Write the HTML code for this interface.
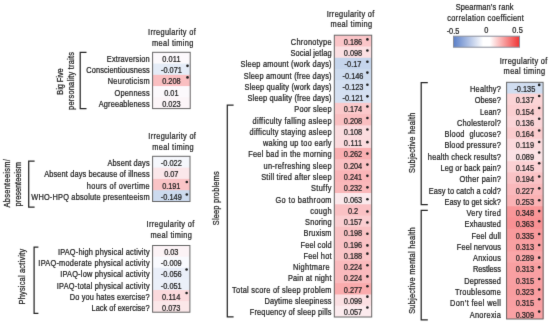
<!DOCTYPE html>
<html><head><meta charset="utf-8"><style>
html,body{margin:0;padding:0;background:#fff;width:550px;height:324px;overflow:hidden}
svg{display:block;font-family:"Liberation Sans",sans-serif;}
text{white-space:pre;stroke:#1e1e1e;stroke-width:0.25px}
</style></head><body>
<svg width="550" height="324" viewBox="0 0 550 324">
<defs><filter id="bl" x="0" y="0" width="550" height="324" filterUnits="userSpaceOnUse" color-interpolation-filters="sRGB"><feConvolveMatrix order="3" kernelMatrix="1 10 1 10 100 10 1 10 1" edgeMode="duplicate"/></filter></defs>
<g filter="url(#bl)"><rect width="550" height="324" fill="#fff"/>
<text transform="translate(171.90,35.40) scale(0.88,1) translate(0.182,0)" text-anchor="middle" font-size="8.4" fill="#1e1e1e" letter-spacing="0.364">Irregularity of</text>
<text transform="translate(172.70,45.90) scale(0.88,1) translate(0.205,0)" text-anchor="middle" font-size="8.4" fill="#1e1e1e" letter-spacing="0.410">meal timing</text>
<rect x="152.60" y="52.30" width="37.60" height="56.30" fill="#fcf9fc"/>
<rect x="152.60" y="63.56" width="37.60" height="45.04" fill="#e5ecf7"/>
<rect x="152.60" y="74.82" width="37.60" height="33.78" fill="#fabfc1"/>
<rect x="152.60" y="86.08" width="37.60" height="22.52" fill="#fcf9fc"/>
<rect x="152.60" y="97.34" width="37.60" height="11.26" fill="#fcf5f8"/>
<text transform="translate(149.60,61.90) scale(0.88,1) translate(0.180,0)" text-anchor="end" font-size="8.4" fill="#1e1e1e" letter-spacing="0.180">Extraversion</text>
<text transform="translate(171.40,61.90) scale(0.88,1) translate(0.056,0)" text-anchor="middle" font-size="8.4" fill="#1e1e1e" letter-spacing="0.113">0.011</text>
<text transform="translate(149.60,73.16) scale(0.88,1) translate(0.088,0)" text-anchor="end" font-size="8.4" fill="#1e1e1e" letter-spacing="0.088">Conscientiousness</text>
<text transform="translate(171.40,73.16) scale(0.88,1) translate(0.000,0)" text-anchor="middle" font-size="8.4" fill="#1e1e1e" letter-spacing="0.000">-0.071</text>
<circle cx="187.50" cy="65.86" r="1.3" fill="#1e1e1e"/>
<text transform="translate(149.60,84.42) scale(0.88,1) translate(0.328,0)" text-anchor="end" font-size="8.4" fill="#1e1e1e" letter-spacing="0.328">Neuroticism</text>
<text transform="translate(171.40,84.42) scale(0.88,1) translate(-0.022,0)" text-anchor="middle" font-size="8.4" fill="#1e1e1e" letter-spacing="-0.043">0.208</text>
<circle cx="187.50" cy="77.42" r="1.3" fill="#1e1e1e"/>
<text transform="translate(149.60,95.68) scale(0.88,1) translate(0.226,0)" text-anchor="end" font-size="8.4" fill="#1e1e1e" letter-spacing="0.226">Openness</text>
<text transform="translate(171.40,95.68) scale(0.88,1) translate(-0.029,0)" text-anchor="middle" font-size="8.4" fill="#1e1e1e" letter-spacing="-0.059">0.01</text>
<text transform="translate(149.60,106.94) scale(0.88,1) translate(0.145,0)" text-anchor="end" font-size="8.4" fill="#1e1e1e" letter-spacing="0.145">Agreeableness</text>
<text transform="translate(171.40,106.94) scale(0.88,1) translate(-0.022,0)" text-anchor="middle" font-size="8.4" fill="#1e1e1e" letter-spacing="-0.043">0.023</text>
<rect x="152.60" y="52.30" width="37.60" height="56.30" fill="none" stroke="#666" stroke-width="1"/>
<path d="M86.50,52.30 H80.20 V108.70 H86.50" fill="none" stroke="#262626" stroke-width="1.25"/>
<text transform="translate(63.40,81.50) rotate(-90) scale(0.88,1) translate(-0.027,0)" text-anchor="middle" font-size="8.4" fill="#1e1e1e" letter-spacing="-0.054">Big Five</text>
<text transform="translate(74.20,81.00) rotate(-90) scale(0.88,1) translate(0.138,0)" text-anchor="middle" font-size="8.4" fill="#1e1e1e" letter-spacing="0.276">personality traits</text>
<text transform="translate(172.10,139.40) scale(0.88,1) translate(0.182,0)" text-anchor="middle" font-size="8.4" fill="#1e1e1e" letter-spacing="0.364">Irregularity of</text>
<text transform="translate(172.90,149.60) scale(0.88,1) translate(0.205,0)" text-anchor="middle" font-size="8.4" fill="#1e1e1e" letter-spacing="0.410">meal timing</text>
<rect x="152.60" y="156.30" width="37.40" height="45.20" fill="#f5f7fc"/>
<rect x="152.60" y="167.60" width="37.40" height="33.90" fill="#fbe7ea"/>
<rect x="152.60" y="178.90" width="37.40" height="22.60" fill="#fac4c6"/>
<rect x="152.60" y="190.20" width="37.40" height="11.30" fill="#ccdaee"/>
<text transform="translate(149.60,165.90) scale(0.88,1) translate(0.163,0)" text-anchor="end" font-size="8.4" fill="#1e1e1e" letter-spacing="0.163">Absent days</text>
<text transform="translate(171.30,165.90) scale(0.88,1) translate(0.000,0)" text-anchor="middle" font-size="8.4" fill="#1e1e1e" letter-spacing="0.000">-0.022</text>
<text transform="translate(149.60,177.20) scale(0.88,1) translate(0.157,0)" text-anchor="end" font-size="8.4" fill="#1e1e1e" letter-spacing="0.157">Absent days because of illness</text>
<text transform="translate(171.30,177.20) scale(0.88,1) translate(-0.029,0)" text-anchor="middle" font-size="8.4" fill="#1e1e1e" letter-spacing="-0.059">0.07</text>
<text transform="translate(149.60,188.50) scale(0.88,1) translate(0.402,0)" text-anchor="end" font-size="8.4" fill="#1e1e1e" letter-spacing="0.402">hours of overtime</text>
<text transform="translate(171.30,188.50) scale(0.88,1) translate(-0.022,0)" text-anchor="middle" font-size="8.4" fill="#1e1e1e" letter-spacing="-0.043">0.191</text>
<circle cx="186.80" cy="182.00" r="1.3" fill="#1e1e1e"/>
<text transform="translate(149.60,199.80) scale(0.88,1) translate(0.222,0)" text-anchor="end" font-size="8.4" fill="#1e1e1e" letter-spacing="0.222">WHO-HPQ absolute presenteeism</text>
<text transform="translate(171.30,199.80) scale(0.88,1) translate(0.000,0)" text-anchor="middle" font-size="8.4" fill="#1e1e1e" letter-spacing="0.000">-0.149</text>
<circle cx="186.80" cy="194.50" r="1.3" fill="#1e1e1e"/>
<rect x="152.60" y="156.30" width="37.40" height="45.20" fill="none" stroke="#666" stroke-width="1"/>
<path d="M34.60,161.20 H28.70 V207.00 H34.60" fill="none" stroke="#262626" stroke-width="1.25"/>
<text transform="translate(10.40,183.30) rotate(-90) scale(0.88,1) translate(0.183,0)" text-anchor="middle" font-size="8.4" fill="#1e1e1e" letter-spacing="0.366">Absenteeism/</text>
<text transform="translate(20.60,184.30) rotate(-90) scale(0.88,1) translate(-0.008,0)" text-anchor="middle" font-size="8.4" fill="#1e1e1e" letter-spacing="-0.015">presenteeism</text>
<text transform="translate(170.40,227.00) scale(0.88,1) translate(0.182,0)" text-anchor="middle" font-size="8.4" fill="#1e1e1e" letter-spacing="0.364">Irregularity of</text>
<text transform="translate(171.20,238.20) scale(0.88,1) translate(0.205,0)" text-anchor="middle" font-size="8.4" fill="#1e1e1e" letter-spacing="0.410">meal timing</text>
<rect x="152.60" y="245.50" width="37.30" height="66.70" fill="#fcf3f6"/>
<rect x="152.60" y="256.62" width="37.30" height="55.58" fill="#f9fafe"/>
<rect x="152.60" y="267.73" width="37.30" height="44.47" fill="#eaeff9"/>
<rect x="152.60" y="278.85" width="37.30" height="33.35" fill="#ebf0f9"/>
<rect x="152.60" y="289.97" width="37.30" height="22.23" fill="#fbdadd"/>
<rect x="152.60" y="301.08" width="37.30" height="11.12" fill="#fbe7e9"/>
<text transform="translate(149.60,255.20) scale(0.88,1) translate(0.209,0)" text-anchor="end" font-size="8.4" fill="#1e1e1e" letter-spacing="0.209">IPAQ-high physical activity</text>
<text transform="translate(171.25,255.20) scale(0.88,1) translate(-0.029,0)" text-anchor="middle" font-size="8.4" fill="#1e1e1e" letter-spacing="-0.059">0.03</text>
<text transform="translate(149.60,266.32) scale(0.88,1) translate(0.269,0)" text-anchor="end" font-size="8.4" fill="#1e1e1e" letter-spacing="0.269">IPAQ-moderate physical activity</text>
<text transform="translate(171.25,266.32) scale(0.88,1) translate(0.000,0)" text-anchor="middle" font-size="8.4" fill="#1e1e1e" letter-spacing="0.000">-0.009</text>
<text transform="translate(149.60,277.43) scale(0.88,1) translate(0.248,0)" text-anchor="end" font-size="8.4" fill="#1e1e1e" letter-spacing="0.248">IPAQ-low physical activity</text>
<text transform="translate(171.25,277.43) scale(0.88,1) translate(0.000,0)" text-anchor="middle" font-size="8.4" fill="#1e1e1e" letter-spacing="0.000">-0.056</text>
<circle cx="186.60" cy="269.53" r="1.3" fill="#1e1e1e"/>
<text transform="translate(149.60,288.55) scale(0.88,1) translate(0.249,0)" text-anchor="end" font-size="8.4" fill="#1e1e1e" letter-spacing="0.249">IPAQ-total physical activity</text>
<text transform="translate(171.25,288.55) scale(0.88,1) translate(0.000,0)" text-anchor="middle" font-size="8.4" fill="#1e1e1e" letter-spacing="0.000">-0.051</text>
<text transform="translate(149.60,299.67) scale(0.88,1) translate(0.139,0)" text-anchor="end" font-size="8.4" fill="#1e1e1e" letter-spacing="0.139">Do you hates exercise?</text>
<text transform="translate(171.25,299.67) scale(0.88,1) translate(0.056,0)" text-anchor="middle" font-size="8.4" fill="#1e1e1e" letter-spacing="0.113">0.114</text>
<circle cx="186.60" cy="292.97" r="1.3" fill="#1e1e1e"/>
<text transform="translate(149.60,310.78) scale(0.88,1) translate(0.045,0)" text-anchor="end" font-size="8.4" fill="#1e1e1e" letter-spacing="0.045">Lack of exercise?</text>
<text transform="translate(171.25,310.78) scale(0.88,1) translate(-0.022,0)" text-anchor="middle" font-size="8.4" fill="#1e1e1e" letter-spacing="-0.043">0.073</text>
<rect x="152.60" y="245.50" width="37.30" height="66.70" fill="none" stroke="#666" stroke-width="1"/>
<path d="M38.40,247.00 H34.10 V313.30 H38.40" fill="none" stroke="#262626" stroke-width="1.25"/>
<text transform="translate(25.40,276.70) rotate(-90) scale(0.88,1) translate(0.124,0)" text-anchor="middle" font-size="8.4" fill="#1e1e1e" letter-spacing="0.247">Physical activity</text>
<text transform="translate(350.50,16.70) scale(0.88,1) translate(0.182,0)" text-anchor="middle" font-size="8.4" fill="#1e1e1e" letter-spacing="0.364">Irregularity of</text>
<text transform="translate(351.30,26.90) scale(0.88,1) translate(0.205,0)" text-anchor="middle" font-size="8.4" fill="#1e1e1e" letter-spacing="0.410">meal timing</text>
<rect x="334.30" y="35.20" width="37.40" height="281.80" fill="#fbc5c8"/>
<rect x="334.30" y="46.47" width="37.40" height="270.53" fill="#fbdfe2"/>
<rect x="334.30" y="57.74" width="37.40" height="259.26" fill="#c5d5ec"/>
<rect x="334.30" y="69.02" width="37.40" height="247.98" fill="#cddbee"/>
<rect x="334.30" y="80.29" width="37.40" height="236.71" fill="#d4e0f1"/>
<rect x="334.30" y="91.56" width="37.40" height="225.44" fill="#d5e0f1"/>
<rect x="334.30" y="102.83" width="37.40" height="214.17" fill="#fbc9cb"/>
<rect x="334.30" y="114.10" width="37.40" height="202.90" fill="#fabfc1"/>
<rect x="334.30" y="125.38" width="37.40" height="191.62" fill="#fbdcdf"/>
<rect x="334.30" y="136.65" width="37.40" height="180.35" fill="#fbdbde"/>
<rect x="334.30" y="147.92" width="37.40" height="169.08" fill="#faafb1"/>
<rect x="334.30" y="159.19" width="37.40" height="157.81" fill="#fac0c3"/>
<rect x="334.30" y="170.46" width="37.40" height="146.54" fill="#fab5b8"/>
<rect x="334.30" y="181.74" width="37.40" height="135.26" fill="#fab8ba"/>
<rect x="334.30" y="193.01" width="37.40" height="123.99" fill="#fbe9ec"/>
<rect x="334.30" y="204.28" width="37.40" height="112.72" fill="#fac1c4"/>
<rect x="334.30" y="215.55" width="37.40" height="101.45" fill="#fbced1"/>
<rect x="334.30" y="226.82" width="37.40" height="90.18" fill="#fac2c4"/>
<rect x="334.30" y="238.10" width="37.40" height="78.90" fill="#fac2c5"/>
<rect x="334.30" y="249.37" width="37.40" height="67.63" fill="#fac5c7"/>
<rect x="334.30" y="260.64" width="37.40" height="56.36" fill="#fababd"/>
<rect x="334.30" y="271.91" width="37.40" height="45.09" fill="#fababd"/>
<rect x="334.30" y="283.18" width="37.40" height="33.82" fill="#faabad"/>
<rect x="334.30" y="294.46" width="37.40" height="22.54" fill="#fbdfe2"/>
<rect x="334.30" y="305.73" width="37.40" height="11.27" fill="#fcebee"/>
<text transform="translate(331.50,44.70) scale(0.88,1) translate(0.314,0)" text-anchor="end" font-size="8.4" fill="#1e1e1e" letter-spacing="0.314">Chronotype</text>
<text transform="translate(353.00,44.70) scale(0.88,1) translate(-0.022,0)" text-anchor="middle" font-size="8.4" fill="#1e1e1e" letter-spacing="-0.043">0.186</text>
<circle cx="367.40" cy="39.40" r="1.3" fill="#1e1e1e"/>
<text transform="translate(331.50,55.97) scale(0.88,1) translate(0.118,0)" text-anchor="end" font-size="8.4" fill="#1e1e1e" letter-spacing="0.118">Social jetlag</text>
<text transform="translate(353.00,55.97) scale(0.88,1) translate(-0.022,0)" text-anchor="middle" font-size="8.4" fill="#1e1e1e" letter-spacing="-0.043">0.098</text>
<circle cx="367.40" cy="50.57" r="1.3" fill="#1e1e1e"/>
<text transform="translate(331.50,67.24) scale(0.88,1) translate(0.251,0)" text-anchor="end" font-size="8.4" fill="#1e1e1e" letter-spacing="0.251">Sleep amount (work days)</text>
<text transform="translate(353.00,67.24) scale(0.88,1) translate(-0.000,0)" text-anchor="middle" font-size="8.4" fill="#1e1e1e" letter-spacing="-0.001">-0.17</text>
<circle cx="367.40" cy="61.74" r="1.3" fill="#1e1e1e"/>
<text transform="translate(331.50,78.52) scale(0.88,1) translate(0.234,0)" text-anchor="end" font-size="8.4" fill="#1e1e1e" letter-spacing="0.234">Sleep amount (free days)</text>
<text transform="translate(353.00,78.52) scale(0.88,1) translate(0.000,0)" text-anchor="middle" font-size="8.4" fill="#1e1e1e" letter-spacing="0.000">-0.146</text>
<circle cx="367.40" cy="72.62" r="1.3" fill="#1e1e1e"/>
<text transform="translate(331.50,89.79) scale(0.88,1) translate(0.211,0)" text-anchor="end" font-size="8.4" fill="#1e1e1e" letter-spacing="0.211">Sleep quality (work days)</text>
<text transform="translate(353.00,89.79) scale(0.88,1) translate(0.000,0)" text-anchor="middle" font-size="8.4" fill="#1e1e1e" letter-spacing="0.000">-0.123</text>
<circle cx="367.40" cy="84.69" r="1.3" fill="#1e1e1e"/>
<text transform="translate(331.50,101.06) scale(0.88,1) translate(0.205,0)" text-anchor="end" font-size="8.4" fill="#1e1e1e" letter-spacing="0.205">Sleep quality (free days)</text>
<text transform="translate(353.00,101.06) scale(0.88,1) translate(0.000,0)" text-anchor="middle" font-size="8.4" fill="#1e1e1e" letter-spacing="0.000">-0.121</text>
<circle cx="367.40" cy="96.36" r="1.3" fill="#1e1e1e"/>
<text transform="translate(331.50,112.33) scale(0.88,1) translate(0.235,0)" text-anchor="end" font-size="8.4" fill="#1e1e1e" letter-spacing="0.235">Poor sleep</text>
<text transform="translate(353.00,112.33) scale(0.88,1) translate(-0.022,0)" text-anchor="middle" font-size="8.4" fill="#1e1e1e" letter-spacing="-0.043">0.174</text>
<circle cx="367.40" cy="106.43" r="1.3" fill="#1e1e1e"/>
<text transform="translate(331.50,123.60) scale(0.88,1) translate(0.342,0)" text-anchor="end" font-size="8.4" fill="#1e1e1e" letter-spacing="0.342">difficulty falling asleep</text>
<text transform="translate(353.00,123.60) scale(0.88,1) translate(-0.022,0)" text-anchor="middle" font-size="8.4" fill="#1e1e1e" letter-spacing="-0.043">0.208</text>
<circle cx="367.40" cy="118.00" r="1.3" fill="#1e1e1e"/>
<text transform="translate(331.50,134.88) scale(0.88,1) translate(0.290,0)" text-anchor="end" font-size="8.4" fill="#1e1e1e" letter-spacing="0.290">difficulty staying asleep</text>
<text transform="translate(353.00,134.88) scale(0.88,1) translate(-0.022,0)" text-anchor="middle" font-size="8.4" fill="#1e1e1e" letter-spacing="-0.043">0.108</text>
<circle cx="367.40" cy="129.48" r="1.3" fill="#1e1e1e"/>
<text transform="translate(331.50,146.15) scale(0.88,1) translate(0.309,0)" text-anchor="end" font-size="8.4" fill="#1e1e1e" letter-spacing="0.309">waking up too early</text>
<text transform="translate(353.00,146.15) scale(0.88,1) translate(0.135,0)" text-anchor="middle" font-size="8.4" fill="#1e1e1e" letter-spacing="0.269">0.111</text>
<circle cx="367.40" cy="142.15" r="1.3" fill="#1e1e1e"/>
<text transform="translate(331.50,157.42) scale(0.88,1) translate(0.292,0)" text-anchor="end" font-size="8.4" fill="#1e1e1e" letter-spacing="0.292">Feel bad in the morning</text>
<text transform="translate(353.00,157.42) scale(0.88,1) translate(-0.022,0)" text-anchor="middle" font-size="8.4" fill="#1e1e1e" letter-spacing="-0.043">0.262</text>
<circle cx="367.40" cy="153.62" r="1.3" fill="#1e1e1e"/>
<text transform="translate(331.50,168.69) scale(0.88,1) translate(0.297,0)" text-anchor="end" font-size="8.4" fill="#1e1e1e" letter-spacing="0.297">un-refreshing sleep</text>
<text transform="translate(353.00,168.69) scale(0.88,1) translate(-0.022,0)" text-anchor="middle" font-size="8.4" fill="#1e1e1e" letter-spacing="-0.043">0.204</text>
<circle cx="367.40" cy="164.59" r="1.3" fill="#1e1e1e"/>
<text transform="translate(331.50,179.96) scale(0.88,1) translate(0.282,0)" text-anchor="end" font-size="8.4" fill="#1e1e1e" letter-spacing="0.282">Still tired after sleep</text>
<text transform="translate(353.00,179.96) scale(0.88,1) translate(-0.022,0)" text-anchor="middle" font-size="8.4" fill="#1e1e1e" letter-spacing="-0.043">0.241</text>
<circle cx="367.40" cy="175.86" r="1.3" fill="#1e1e1e"/>
<text transform="translate(331.50,191.24) scale(0.88,1) translate(0.406,0)" text-anchor="end" font-size="8.4" fill="#1e1e1e" letter-spacing="0.406">Stuffy</text>
<text transform="translate(353.00,191.24) scale(0.88,1) translate(-0.022,0)" text-anchor="middle" font-size="8.4" fill="#1e1e1e" letter-spacing="-0.043">0.232</text>
<circle cx="367.40" cy="187.34" r="1.3" fill="#1e1e1e"/>
<text transform="translate(331.50,202.51) scale(0.88,1) translate(0.409,0)" text-anchor="end" font-size="8.4" fill="#1e1e1e" letter-spacing="0.409">Go to bathroom</text>
<text transform="translate(353.00,202.51) scale(0.88,1) translate(-0.022,0)" text-anchor="middle" font-size="8.4" fill="#1e1e1e" letter-spacing="-0.043">0.063</text>
<circle cx="367.40" cy="199.21" r="1.3" fill="#1e1e1e"/>
<text transform="translate(331.50,213.78) scale(0.88,1) translate(0.316,0)" text-anchor="end" font-size="8.4" fill="#1e1e1e" letter-spacing="0.316">cough</text>
<text transform="translate(353.00,213.78) scale(0.88,1) translate(-0.045,0)" text-anchor="middle" font-size="8.4" fill="#1e1e1e" letter-spacing="-0.089">0.2</text>
<circle cx="367.40" cy="211.48" r="1.3" fill="#1e1e1e"/>
<text transform="translate(331.50,225.05) scale(0.88,1) translate(0.187,0)" text-anchor="end" font-size="8.4" fill="#1e1e1e" letter-spacing="0.187">Snoring</text>
<text transform="translate(353.00,225.05) scale(0.88,1) translate(-0.022,0)" text-anchor="middle" font-size="8.4" fill="#1e1e1e" letter-spacing="-0.043">0.157</text>
<circle cx="367.40" cy="222.55" r="1.3" fill="#1e1e1e"/>
<text transform="translate(331.50,236.32) scale(0.88,1) translate(0.242,0)" text-anchor="end" font-size="8.4" fill="#1e1e1e" letter-spacing="0.242">Bruxism</text>
<text transform="translate(353.00,236.32) scale(0.88,1) translate(-0.022,0)" text-anchor="middle" font-size="8.4" fill="#1e1e1e" letter-spacing="-0.043">0.198</text>
<circle cx="367.40" cy="233.82" r="1.3" fill="#1e1e1e"/>
<text transform="translate(331.50,247.60) scale(0.88,1) translate(0.127,0)" text-anchor="end" font-size="8.4" fill="#1e1e1e" letter-spacing="0.127">Feel cold</text>
<text transform="translate(353.00,247.60) scale(0.88,1) translate(-0.022,0)" text-anchor="middle" font-size="8.4" fill="#1e1e1e" letter-spacing="-0.043">0.196</text>
<circle cx="367.40" cy="245.40" r="1.3" fill="#1e1e1e"/>
<text transform="translate(331.50,258.87) scale(0.88,1) translate(0.206,0)" text-anchor="end" font-size="8.4" fill="#1e1e1e" letter-spacing="0.206">Feel hot</text>
<text transform="translate(353.00,258.87) scale(0.88,1) translate(-0.022,0)" text-anchor="middle" font-size="8.4" fill="#1e1e1e" letter-spacing="-0.043">0.188</text>
<circle cx="367.40" cy="253.67" r="1.3" fill="#1e1e1e"/>
<text transform="translate(329.70,270.14) scale(0.88,1) translate(0.383,0)" text-anchor="end" font-size="8.4" fill="#1e1e1e" letter-spacing="0.383">Nightmare</text>
<text transform="translate(353.00,270.14) scale(0.88,1) translate(-0.022,0)" text-anchor="middle" font-size="8.4" fill="#1e1e1e" letter-spacing="-0.043">0.224</text>
<circle cx="367.40" cy="265.24" r="1.3" fill="#1e1e1e"/>
<text transform="translate(331.50,281.41) scale(0.88,1) translate(0.239,0)" text-anchor="end" font-size="8.4" fill="#1e1e1e" letter-spacing="0.239">Pain at night</text>
<text transform="translate(353.00,281.41) scale(0.88,1) translate(-0.022,0)" text-anchor="middle" font-size="8.4" fill="#1e1e1e" letter-spacing="-0.043">0.224</text>
<circle cx="367.40" cy="276.41" r="1.3" fill="#1e1e1e"/>
<text transform="translate(331.50,292.68) scale(0.88,1) translate(0.295,0)" text-anchor="end" font-size="8.4" fill="#1e1e1e" letter-spacing="0.295">Total score of sleep problem</text>
<text transform="translate(353.00,292.68) scale(0.88,1) translate(-0.022,0)" text-anchor="middle" font-size="8.4" fill="#1e1e1e" letter-spacing="-0.043">0.277</text>
<circle cx="367.40" cy="286.18" r="1.3" fill="#1e1e1e"/>
<text transform="translate(331.50,303.96) scale(0.88,1) translate(0.200,0)" text-anchor="end" font-size="8.4" fill="#1e1e1e" letter-spacing="0.200">Daytime sleepiness</text>
<text transform="translate(353.00,303.96) scale(0.88,1) translate(-0.022,0)" text-anchor="middle" font-size="8.4" fill="#1e1e1e" letter-spacing="-0.043">0.099</text>
<circle cx="367.40" cy="296.66" r="1.3" fill="#1e1e1e"/>
<text transform="translate(331.50,315.23) scale(0.88,1) translate(0.206,0)" text-anchor="end" font-size="8.4" fill="#1e1e1e" letter-spacing="0.206">Frequency of sleep pills</text>
<text transform="translate(353.00,315.23) scale(0.88,1) translate(-0.022,0)" text-anchor="middle" font-size="8.4" fill="#1e1e1e" letter-spacing="-0.043">0.057</text>
<circle cx="367.40" cy="307.53" r="1.3" fill="#1e1e1e"/>
<rect x="334.30" y="35.20" width="37.40" height="281.80" fill="none" stroke="#666" stroke-width="1"/>
<path d="M233.60,105.10 H227.30 V316.80 H233.60" fill="none" stroke="#262626" stroke-width="1.25"/>
<text transform="translate(219.00,198.30) rotate(-90) scale(0.88,1) translate(0.113,0)" text-anchor="middle" font-size="8.4" fill="#1e1e1e" letter-spacing="0.226">Sleep problems</text>
<text transform="translate(484.50,10.00) scale(0.88,1) translate(0.082,0)" text-anchor="middle" font-size="8.4" fill="#1e1e1e" letter-spacing="0.164">Spearman’s rank</text>
<text transform="translate(485.50,21.00) scale(0.88,1) translate(0.180,0)" text-anchor="middle" font-size="8.4" fill="#1e1e1e" letter-spacing="0.361">correlation coefficient</text>
<text transform="translate(453.00,33.90) scale(0.88,1) translate(-0.020,0)" text-anchor="middle" font-size="8.4" fill="#1e1e1e" letter-spacing="-0.040">-0.5</text>
<text transform="translate(486.20,32.90) scale(0.88,1) translate(-0.290,0)" text-anchor="middle" font-size="8.4" fill="#1e1e1e" letter-spacing="-0.581">0</text>
<text transform="translate(517.60,32.70) scale(0.88,1) translate(0.069,0)" text-anchor="middle" font-size="8.4" fill="#1e1e1e" letter-spacing="0.138">0.5</text>
<defs><linearGradient id="g" x1="0" x2="1" y1="0" y2="0"><stop offset="0" stop-color="#5a7fc8"/><stop offset="0.45" stop-color="#ffffff"/><stop offset="0.55" stop-color="#ffffff"/><stop offset="1" stop-color="#f03434"/></linearGradient></defs>
<rect x="453.5" y="36.2" width="66" height="11" fill="url(#g)" stroke="#8a8f9c" stroke-width="1"/>
<text transform="translate(523.50,63.90) scale(0.88,1) translate(0.182,0)" text-anchor="middle" font-size="8.4" fill="#1e1e1e" letter-spacing="0.364">Irregularity of</text>
<text transform="translate(524.30,74.40) scale(0.88,1) translate(0.205,0)" text-anchor="middle" font-size="8.4" fill="#1e1e1e" letter-spacing="0.410">meal timing</text>
<rect x="506.60" y="82.30" width="36.50" height="236.70" fill="#d0ddf0"/>
<rect x="506.60" y="93.57" width="36.50" height="225.43" fill="#fbd4d6"/>
<rect x="506.60" y="104.84" width="36.50" height="214.16" fill="#fbcfd1"/>
<rect x="506.60" y="116.11" width="36.50" height="202.89" fill="#fbd4d7"/>
<rect x="506.60" y="127.39" width="36.50" height="191.61" fill="#fbccce"/>
<rect x="506.60" y="138.66" width="36.50" height="180.34" fill="#fbd9dc"/>
<rect x="506.60" y="149.93" width="36.50" height="169.07" fill="#fbe2e5"/>
<rect x="506.60" y="161.20" width="36.50" height="157.80" fill="#fbd1d4"/>
<rect x="506.60" y="172.47" width="36.50" height="146.53" fill="#fac3c6"/>
<rect x="506.60" y="183.74" width="36.50" height="135.26" fill="#fab9bc"/>
<rect x="506.60" y="195.01" width="36.50" height="123.99" fill="#fab2b4"/>
<rect x="506.60" y="206.29" width="36.50" height="112.71" fill="#f99698"/>
<rect x="506.60" y="217.56" width="36.50" height="101.44" fill="#f99194"/>
<rect x="506.60" y="228.83" width="36.50" height="90.17" fill="#f99a9c"/>
<rect x="506.60" y="240.10" width="36.50" height="78.90" fill="#f9a0a2"/>
<rect x="506.60" y="251.37" width="36.50" height="67.63" fill="#faa7a9"/>
<rect x="506.60" y="262.64" width="36.50" height="56.36" fill="#f9a0a2"/>
<rect x="506.60" y="273.91" width="36.50" height="45.09" fill="#f99fa2"/>
<rect x="506.60" y="285.19" width="36.50" height="33.81" fill="#f99d9f"/>
<rect x="506.60" y="296.46" width="36.50" height="22.54" fill="#f99fa2"/>
<rect x="506.60" y="307.73" width="36.50" height="11.27" fill="#faa1a4"/>
<text transform="translate(500.90,92.10) scale(0.88,1) translate(0.293,0)" text-anchor="end" font-size="8.4" fill="#1e1e1e" letter-spacing="0.293">Healthy?</text>
<text transform="translate(524.85,92.10) scale(0.88,1) translate(0.000,0)" text-anchor="middle" font-size="8.4" fill="#1e1e1e" letter-spacing="0.000">-0.135</text>
<circle cx="539.20" cy="84.90" r="1.3" fill="#1e1e1e"/>
<text transform="translate(500.90,103.37) scale(0.88,1) translate(0.086,0)" text-anchor="end" font-size="8.4" fill="#1e1e1e" letter-spacing="0.086">Obese?</text>
<text transform="translate(524.85,103.37) scale(0.88,1) translate(-0.022,0)" text-anchor="middle" font-size="8.4" fill="#1e1e1e" letter-spacing="-0.043">0.137</text>
<circle cx="539.20" cy="96.07" r="1.3" fill="#1e1e1e"/>
<text transform="translate(500.90,114.64) scale(0.88,1) translate(0.085,0)" text-anchor="end" font-size="8.4" fill="#1e1e1e" letter-spacing="0.085">Lean?</text>
<text transform="translate(524.85,114.64) scale(0.88,1) translate(-0.022,0)" text-anchor="middle" font-size="8.4" fill="#1e1e1e" letter-spacing="-0.043">0.154</text>
<circle cx="539.20" cy="108.04" r="1.3" fill="#1e1e1e"/>
<text transform="translate(500.90,125.91) scale(0.88,1) translate(0.260,0)" text-anchor="end" font-size="8.4" fill="#1e1e1e" letter-spacing="0.260">Cholesterol?</text>
<text transform="translate(524.85,125.91) scale(0.88,1) translate(-0.022,0)" text-anchor="middle" font-size="8.4" fill="#1e1e1e" letter-spacing="-0.043">0.136</text>
<circle cx="539.20" cy="118.81" r="1.3" fill="#1e1e1e"/>
<text transform="translate(500.90,137.19) scale(0.88,1) translate(0.316,0)" text-anchor="end" font-size="8.4" fill="#1e1e1e" letter-spacing="0.316">Blood  glucose?</text>
<text transform="translate(524.85,137.19) scale(0.88,1) translate(-0.022,0)" text-anchor="middle" font-size="8.4" fill="#1e1e1e" letter-spacing="-0.043">0.164</text>
<circle cx="539.20" cy="130.49" r="1.3" fill="#1e1e1e"/>
<text transform="translate(500.90,148.46) scale(0.88,1) translate(0.221,0)" text-anchor="end" font-size="8.4" fill="#1e1e1e" letter-spacing="0.221">Blood pressure?</text>
<text transform="translate(524.85,148.46) scale(0.88,1) translate(0.056,0)" text-anchor="middle" font-size="8.4" fill="#1e1e1e" letter-spacing="0.113">0.119</text>
<circle cx="539.20" cy="141.96" r="1.3" fill="#1e1e1e"/>
<text transform="translate(500.90,159.73) scale(0.88,1) translate(0.208,0)" text-anchor="end" font-size="8.4" fill="#1e1e1e" letter-spacing="0.208">health check results?</text>
<text transform="translate(524.85,159.73) scale(0.88,1) translate(-0.022,0)" text-anchor="middle" font-size="8.4" fill="#1e1e1e" letter-spacing="-0.043">0.089</text>
<circle cx="539.20" cy="152.43" r="1.3" fill="#1e1e1e"/>
<text transform="translate(500.90,171.00) scale(0.88,1) translate(0.121,0)" text-anchor="end" font-size="8.4" fill="#1e1e1e" letter-spacing="0.121">Leg or back pain?</text>
<text transform="translate(524.85,171.00) scale(0.88,1) translate(-0.022,0)" text-anchor="middle" font-size="8.4" fill="#1e1e1e" letter-spacing="-0.043">0.145</text>
<circle cx="539.20" cy="163.20" r="1.3" fill="#1e1e1e"/>
<text transform="translate(500.90,182.27) scale(0.88,1) translate(0.328,0)" text-anchor="end" font-size="8.4" fill="#1e1e1e" letter-spacing="0.328">Other pain?</text>
<text transform="translate(524.85,182.27) scale(0.88,1) translate(-0.022,0)" text-anchor="middle" font-size="8.4" fill="#1e1e1e" letter-spacing="-0.043">0.194</text>
<circle cx="539.20" cy="176.57" r="1.3" fill="#1e1e1e"/>
<text transform="translate(500.90,193.54) scale(0.88,1) translate(0.105,0)" text-anchor="end" font-size="8.4" fill="#1e1e1e" letter-spacing="0.105">Easy to catch a cold?</text>
<text transform="translate(524.85,193.54) scale(0.88,1) translate(-0.022,0)" text-anchor="middle" font-size="8.4" fill="#1e1e1e" letter-spacing="-0.043">0.227</text>
<circle cx="539.20" cy="188.34" r="1.3" fill="#1e1e1e"/>
<text transform="translate(500.90,204.81) scale(0.88,1) translate(0.042,0)" text-anchor="end" font-size="8.4" fill="#1e1e1e" letter-spacing="0.042">Easy to get sick?</text>
<text transform="translate(524.85,204.81) scale(0.88,1) translate(-0.022,0)" text-anchor="middle" font-size="8.4" fill="#1e1e1e" letter-spacing="-0.043">0.253</text>
<circle cx="539.20" cy="200.21" r="1.3" fill="#1e1e1e"/>
<text transform="translate(500.90,216.09) scale(0.88,1) translate(0.411,0)" text-anchor="end" font-size="8.4" fill="#1e1e1e" letter-spacing="0.411">Very tired</text>
<text transform="translate(524.85,216.09) scale(0.88,1) translate(-0.022,0)" text-anchor="middle" font-size="8.4" fill="#1e1e1e" letter-spacing="-0.043">0.348</text>
<circle cx="539.20" cy="211.09" r="1.3" fill="#1e1e1e"/>
<text transform="translate(500.90,227.36) scale(0.88,1) translate(0.209,0)" text-anchor="end" font-size="8.4" fill="#1e1e1e" letter-spacing="0.209">Exhausted</text>
<text transform="translate(524.85,227.36) scale(0.88,1) translate(-0.022,0)" text-anchor="middle" font-size="8.4" fill="#1e1e1e" letter-spacing="-0.043">0.363</text>
<circle cx="539.20" cy="221.26" r="1.3" fill="#1e1e1e"/>
<text transform="translate(500.90,238.63) scale(0.88,1) translate(0.191,0)" text-anchor="end" font-size="8.4" fill="#1e1e1e" letter-spacing="0.191">Feel dull</text>
<text transform="translate(524.85,238.63) scale(0.88,1) translate(-0.022,0)" text-anchor="middle" font-size="8.4" fill="#1e1e1e" letter-spacing="-0.043">0.335</text>
<circle cx="539.20" cy="233.93" r="1.3" fill="#1e1e1e"/>
<text transform="translate(500.90,249.90) scale(0.88,1) translate(0.143,0)" text-anchor="end" font-size="8.4" fill="#1e1e1e" letter-spacing="0.143">Feel nervous</text>
<text transform="translate(524.85,249.90) scale(0.88,1) translate(-0.022,0)" text-anchor="middle" font-size="8.4" fill="#1e1e1e" letter-spacing="-0.043">0.313</text>
<circle cx="539.20" cy="245.00" r="1.3" fill="#1e1e1e"/>
<text transform="translate(500.90,261.17) scale(0.88,1) translate(0.318,0)" text-anchor="end" font-size="8.4" fill="#1e1e1e" letter-spacing="0.318">Anxious</text>
<text transform="translate(524.85,261.17) scale(0.88,1) translate(-0.022,0)" text-anchor="middle" font-size="8.4" fill="#1e1e1e" letter-spacing="-0.043">0.289</text>
<circle cx="539.20" cy="257.67" r="1.3" fill="#1e1e1e"/>
<text transform="translate(500.90,272.44) scale(0.88,1) translate(-0.060,0)" text-anchor="end" font-size="8.4" fill="#1e1e1e" letter-spacing="-0.060">Restless</text>
<text transform="translate(524.85,272.44) scale(0.88,1) translate(-0.022,0)" text-anchor="middle" font-size="8.4" fill="#1e1e1e" letter-spacing="-0.043">0.313</text>
<circle cx="539.20" cy="267.34" r="1.3" fill="#1e1e1e"/>
<text transform="translate(500.90,283.71) scale(0.88,1) translate(0.134,0)" text-anchor="end" font-size="8.4" fill="#1e1e1e" letter-spacing="0.134">Depressed</text>
<text transform="translate(524.85,283.71) scale(0.88,1) translate(-0.022,0)" text-anchor="middle" font-size="8.4" fill="#1e1e1e" letter-spacing="-0.043">0.315</text>
<circle cx="539.20" cy="279.01" r="1.3" fill="#1e1e1e"/>
<text transform="translate(500.90,294.99) scale(0.88,1) translate(0.358,0)" text-anchor="end" font-size="8.4" fill="#1e1e1e" letter-spacing="0.358">Troublesome</text>
<text transform="translate(524.85,294.99) scale(0.88,1) translate(-0.022,0)" text-anchor="middle" font-size="8.4" fill="#1e1e1e" letter-spacing="-0.043">0.323</text>
<circle cx="539.20" cy="289.54" r="1.3" fill="#1e1e1e"/>
<text transform="translate(500.90,306.26) scale(0.88,1) translate(0.391,0)" text-anchor="end" font-size="8.4" fill="#1e1e1e" letter-spacing="0.391">Don’t feel well</text>
<text transform="translate(524.85,306.26) scale(0.88,1) translate(-0.022,0)" text-anchor="middle" font-size="8.4" fill="#1e1e1e" letter-spacing="-0.043">0.315</text>
<circle cx="539.20" cy="299.31" r="1.3" fill="#1e1e1e"/>
<text transform="translate(500.90,317.53) scale(0.88,1) translate(0.325,0)" text-anchor="end" font-size="8.4" fill="#1e1e1e" letter-spacing="0.325">Anorexia</text>
<text transform="translate(524.85,317.53) scale(0.88,1) translate(-0.022,0)" text-anchor="middle" font-size="8.4" fill="#1e1e1e" letter-spacing="-0.043">0.309</text>
<circle cx="539.20" cy="311.58" r="1.3" fill="#1e1e1e"/>
<rect x="506.60" y="82.30" width="36.50" height="236.70" fill="none" stroke="#666" stroke-width="1"/>
<path d="M427.80,82.70 H421.20 V204.60 H427.80" fill="none" stroke="#262626" stroke-width="1.25"/>
<path d="M427.80,210.40 H421.20 V319.80 H427.80" fill="none" stroke="#262626" stroke-width="1.25"/>
<text transform="translate(415.20,142.80) rotate(-90) scale(0.88,1) translate(0.144,0)" text-anchor="middle" font-size="8.4" fill="#1e1e1e" letter-spacing="0.288">Subjective health</text>
<text transform="translate(414.80,270.60) rotate(-90) scale(0.88,1) translate(0.148,0)" text-anchor="middle" font-size="8.4" fill="#1e1e1e" letter-spacing="0.296">Subjective mental health</text>
</g></svg>
</body></html>
